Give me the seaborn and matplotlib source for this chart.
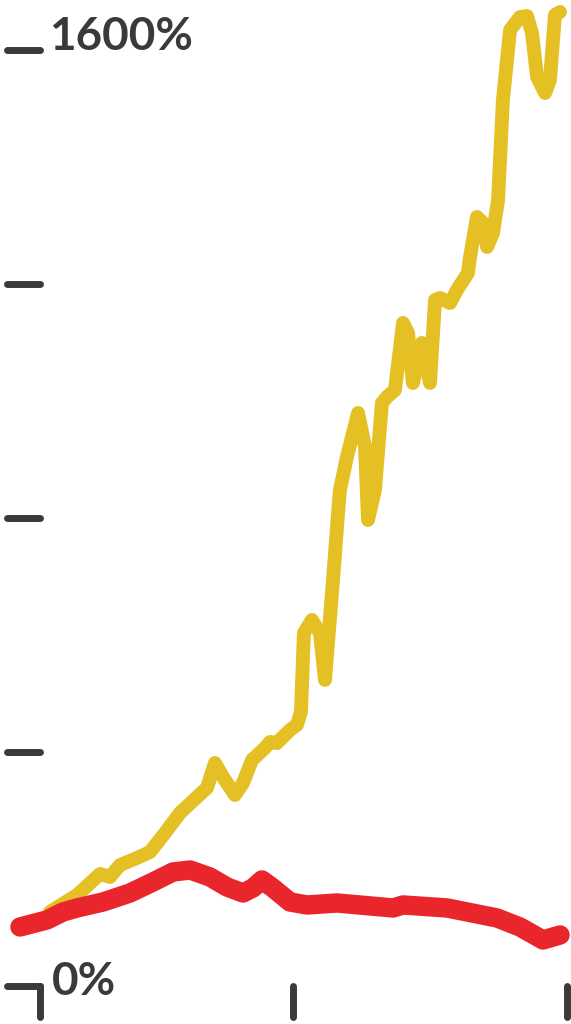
import numpy as np
import pandas as pd
import matplotlib.pyplot as plt
import seaborn as sns
from matplotlib.markers import MarkerStyle, TICKLEFT, TICKDOWN

sns.set_style("white")
plt.rcParams['font.family'] = ['Lato', 'DejaVu Sans']

# serie amarilla (crecimiento acumulado, %)
anios_amarillo = [1995.47, 1996.76, 1997.85, 1998.32, 1998.80, 1999.60, 2000.22, 2000.93,
                  2001.64, 2002.45, 2002.92, 2003.30, 2003.68, 2004.25, 2004.63, 2005.06,
                  2005.67, 2005.91, 2006.24, 2006.86, 2007.19, 2007.38, 2007.52,
                  2007.90, 2008.28, 2008.52, 2008.90, 2009.14, 2009.23, 2009.56, 2010.09,
                  2010.42, 2010.56, 2010.89, 2011.22, 2011.46, 2011.84, 2012.22, 2012.46,
                  2012.69, 2013.12, 2013.50, 2013.74, 2013.98, 2014.45, 2014.78, 2015.30,
                  2015.40, 2015.73, 2016.02, 2016.21, 2016.49, 2016.73, 2016.96, 2017.30,
                  2017.77, 2018.10, 2018.34, 2018.58, 2018.96, 2019.19, 2019.43, 2019.67]
valores_amarillo = [126.5, 155.6, 191.5, 186.4, 206.9, 218.8, 229.1, 261.6,
                    295.8, 323.1, 338.5, 381.2, 357.3, 326.5, 347.0, 386.4,
                    406.9, 417.1, 415.4, 437.6, 446.2, 468.4, 603.4,
                    625.7, 603.4, 523.1, 694.0, 808.6, 847.9, 904.3, 979.5,
                    921.4, 796.6, 847.9, 996.6, 1006.9, 1018.8, 1133.4, 1116.3,
                    1030.8, 1099.2, 1030.8, 1172.7, 1176.1, 1167.5, 1189.8, 1218.8,
                    1246.2, 1314.6, 1304.3, 1263.3, 1287.2, 1343.6, 1514.6, 1634.2,
                    1656.4, 1658.1, 1629.1, 1553.9, 1526.5, 1548.7, 1659.9, 1665.0]

# serie roja
anios_rojo = [1994.05, 1995.33, 1996.09, 1996.76, 1997.99, 1999.27, 2000.36, 2001.31,
              2002.12, 2003.06, 2003.87, 2004.63, 2005.10, 2005.53, 2006.05, 2006.86,
              2007.67, 2009.09, 2011.75, 2012.22, 2014.31, 2016.68, 2017.77, 2018.86,
              2019.67]
valores_rojo = [100.9, 112.9, 126.5, 133.4, 143.6, 159.0, 177.8, 194.9,
                198.3, 186.4, 169.3, 159.0, 167.6, 181.2, 167.6, 143.6,
                138.5, 141.9, 133.4, 138.5, 133.4, 116.3, 100.9, 78.7,
                87.2]

ticks_x = [1995, 2007, 2020]
ticks_y = [0, 400, 800, 1200, 1600]

df_amarillo = pd.DataFrame({'anio': anios_amarillo, 'valor': valores_amarillo})
df_rojo = pd.DataFrame({'anio': anios_rojo, 'valor': valores_rojo})

fig = plt.figure(figsize=(5.71, 10.24), dpi=100)
ax = fig.add_axes([40 / 571, 38 / 1024, 527 / 571, 936 / 1024])

estilo = dict(solid_capstyle='round', solid_joinstyle='round', clip_on=False)
sns.lineplot(data=df_amarillo, x='anio', y='valor', color='#E4C024', linewidth=10, ax=ax, **estilo)
sns.lineplot(data=df_rojo, x='anio', y='valor', color='#E9262C', linewidth=14, ax=ax, **estilo)

ax.set_xlim(1995, 2020)
ax.set_ylim(0, 1600)
ax.set_xticks(ticks_x)
ax.set_yticks(ticks_y)
ax.set_xticklabels([])
ax.set_yticklabels([])
ax.set_xlabel('')
ax.set_ylabel('')
for s in ax.spines.values():
    s.set_visible(False)

gris = '#3A3A3C'
ax.tick_params(axis='y', direction='out', length=24, width=5, color=gris, left=True)
ax.tick_params(axis='x', direction='out', length=22, width=5, color=gris, bottom=True)
for t in ax.yaxis.get_major_ticks():
    t.tick1line.set_marker(MarkerStyle(TICKLEFT, capstyle='round'))
for t in ax.xaxis.get_major_ticks():
    t.tick1line.set_marker(MarkerStyle(TICKDOWN, capstyle='round'))

# etiquetas dentro del grafico
ax.annotate('1600%', xy=(0, 1600), xycoords=('axes fraction', 'data'),
            xytext=(6.5, 0), textcoords='offset points', fontsize=33, fontweight='bold',
            color=gris, ha='left', va='baseline', annotation_clip=False)
ax.annotate('0%', xy=(0, 0), xycoords=('axes fraction', 'data'),
            xytext=(8.6, -6.5), textcoords='offset points', fontsize=33, fontweight='bold',
            color=gris, ha='left', va='baseline', annotation_clip=False)

fig.savefig('out.png', dpi=100)
